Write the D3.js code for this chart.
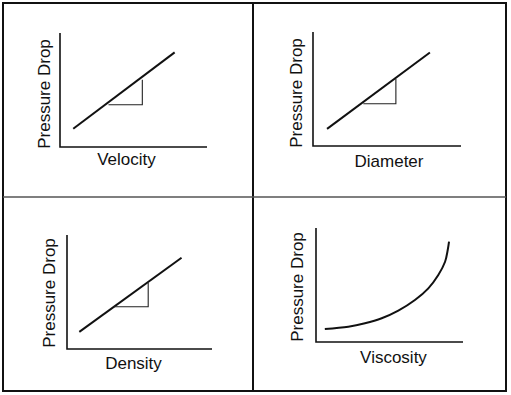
<!DOCTYPE html>
<html>
<head>
<meta charset="utf-8">
<script src="https://cdn.jsdelivr.net/npm/d3@7"></script>
<style>
  body { margin: 0; background: #fff; }
  text { font-family: "Liberation Sans", Arial, sans-serif; font-size: 17px; fill: #111; }
</style>
</head>
<body>
<svg id="chart"></svg>
<script>
var width = 511
var height = 395

// axis labels
var xLabels = ["Velocity", "Diameter", "Density", "Viscosity"]
var yLabel = "Pressure Drop"

// line points for each panel (arbitrary units, 0..10)
var velocityLine = [[0.9, 1.6], [7.8, 8.3]]
var velocityTri = [[3.3, 3.7], [5.6, 3.7], [5.6, 5.9]]
var diameterLine = [[0.95, 1.5], [7.9, 8.2]]
var diameterTri = [[3.4, 3.7], [5.6, 3.7], [5.6, 5.9]]
var densityLine = [[0.85, 1.5], [7.9, 8.0]]
var densityTri = [[3.2, 3.7], [5.6, 3.7], [5.6, 5.8]]
var viscosityCurve = [[0.6, 1.14], [2.2, 1.34], [3.33, 1.64], [4.47, 2.08], [5.6, 2.75],
  [6.73, 3.68], [7.64, 4.71], [8.32, 5.88], [8.78, 7.04], [8.96, 8.07], [9.05, 8.8]]

var panels = [
  {ox: 60, oy: 147, w: 147, line: velocityLine, tri: velocityTri, label: xLabels[0], lx: -7, ly: 18, yx: -10, yy: 4},
  {ox: 313, oy: 146, w: 148, line: diameterLine, tri: diameterTri, label: xLabels[1], lx: 2, ly: 21, yx: -11, yy: 4},
  {ox: 67, oy: 349, w: 145, line: densityLine, tri: densityTri, label: xLabels[2], lx: -6, ly: 20, yx: -12, yy: 1},
  {ox: 316, oy: 342, w: 147, line: viscosityCurve, tri: null, label: xLabels[3], lx: 4, ly: 21, yx: -13, yy: 2, curve: true}
]
var ph = 114

var svg = d3.select("#chart")
    .attr("width", width)
    .attr("height", height)

// frame
svg.append("rect")
  .attr("x", 3).attr("y", 3)
  .attr("width", 503).attr("height", 388)
  .attr("fill", "none")
  .attr("stroke", "#111")
  .attr("stroke-width", 2)
svg.append("line")
  .attr("x1", 253).attr("x2", 253).attr("y1", 3).attr("y2", 391)
  .attr("stroke", "#111").attr("stroke-width", 2)
svg.append("line")
  .attr("x1", 3).attr("x2", 506).attr("y1", 197).attr("y2", 197)
  .attr("stroke", "#555").attr("stroke-width", 1.5)

panels.forEach(function(p){
  var x = d3.scaleLinear().domain([0, 10]).range([0, p.w])
  var y = d3.scaleLinear().domain([0, 10]).range([0, -ph])

  var g = svg.append("g")
    .attr("transform", "translate(" + p.ox + "," + p.oy + ")")

  // axes
  g.append("path")
    .attr("d", "M" + x(0) + "," + y(10) + "V" + y(0) + "H" + x(10))
    .attr("fill", "none")
    .attr("stroke", "#111")
    .attr("stroke-width", 1.6)

  var line = d3.line()
    .x(function(d){ return x(d[0]) })
    .y(function(d){ return y(d[1]) })
  if (p.curve) line.curve(d3.curveCatmullRom.alpha(0.5))

  g.append("path")
    .attr("d", line(p.line))
    .attr("fill", "none")
    .attr("stroke", "#111")
    .attr("stroke-width", 2)

  if (p.tri) {
    g.append("path")
      .attr("d", d3.line()
        .x(function(d){ return x(d[0]) })
        .y(function(d){ return y(d[1]) })(p.tri))
      .attr("fill", "none")
      .attr("stroke", "#222")
      .attr("stroke-width", 1.1)
  }

  g.append("text")
    .attr("x", x(5) + p.lx)
    .attr("y", p.ly)
    .attr("text-anchor", "middle")
    .text(p.label)

  g.append("text")
    .attr("transform", "translate(" + p.yx + "," + (y(5) + p.yy) + ") rotate(-90)")
    .attr("text-anchor", "middle")
    .text(yLabel)
})
</script>
</body>
</html>
